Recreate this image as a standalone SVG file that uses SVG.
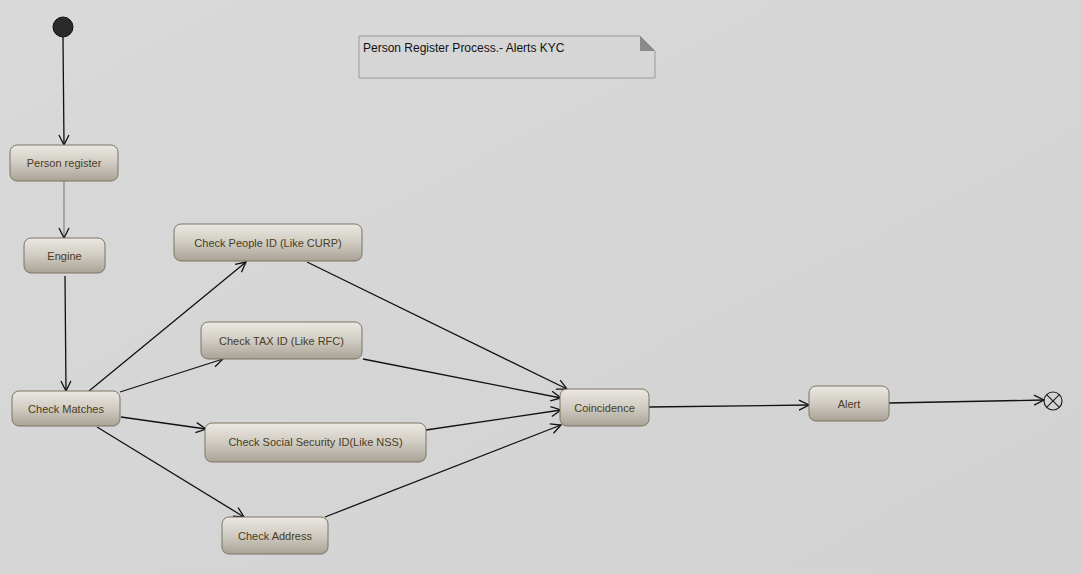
<svg xmlns="http://www.w3.org/2000/svg" width="1082" height="574" viewBox="0 0 1082 574">
<defs>
<linearGradient id="bg" x1="0" y1="0" x2="1" y2="1">
<stop offset="0" stop-color="#d9d9d9"/>
<stop offset="1" stop-color="#d2d2d2"/>
</linearGradient>
<linearGradient id="nodeFill" x1="0" y1="0" x2="0" y2="1">
<stop offset="0" stop-color="#ebe8e2"/>
<stop offset="0.5" stop-color="#d0ccc3"/>
<stop offset="1" stop-color="#a9a296"/>
</linearGradient>
<marker id="arr" viewBox="0 0 12 12" refX="11" refY="6" markerWidth="12" markerHeight="12" markerUnits="userSpaceOnUse" orient="auto">
<path d="M1,1 L11,6 L1,11" fill="none" stroke="#111" stroke-width="1.3"/>
</marker>
<style>
.node rect{fill:url(#nodeFill);stroke:#7d7565;stroke-width:1}
.node text{font-family:"Liberation Sans",Arial,sans-serif;font-size:11px;fill:#4a3c22;text-anchor:middle;dominant-baseline:central}
.edge{fill:none;stroke:#111;stroke-width:1.3;marker-end:url(#arr)}
</style>
</defs>
<rect width="1082" height="574" fill="url(#bg)"/>
<g id="note">
<path d="M359,36 H640 L655,51 V78 H359 Z" fill="#d6d6d6" stroke="#9a9a9a" stroke-width="1"/>
<path d="M640,36 L655,51 H640 Z" fill="#8a8a8a"/>
<text x="363" y="52" font-family="Liberation Sans,Arial,sans-serif" font-size="12" fill="#111">Person Register Process.- Alerts KYC</text>
</g>
<g id="connectors">
<line class="edge" x1="63" y1="37" x2="64" y2="145"/>
<line class="edge" x1="64" y1="181" x2="64" y2="238" style="stroke:#888"/>
<line class="edge" x1="65" y1="276" x2="66" y2="391"/>
<line class="edge" x1="89" y1="391" x2="246" y2="262"/>
<line class="edge" x1="120" y1="392" x2="223" y2="359"/>
<line class="edge" x1="121" y1="417" x2="206" y2="429"/>
<line class="edge" x1="97" y1="427" x2="244" y2="517"/>
<line class="edge" x1="307" y1="262" x2="567" y2="389"/>
<line class="edge" x1="363" y1="359" x2="561" y2="398"/>
<line class="edge" x1="426" y1="430" x2="561" y2="410"/>
<line class="edge" x1="325" y1="517" x2="561" y2="425"/>
<line class="edge" x1="649" y1="407" x2="809" y2="405"/>
<line class="edge" x1="889" y1="403" x2="1044" y2="400"/>
</g>
<g id="start"><circle cx="63" cy="27" r="10" fill="#2a2a2a" stroke="#111" stroke-width="1"/></g>
<g id="person-register" class="node"><rect x="10" y="145" width="108" height="36" rx="7"/><text x="64" y="163">Person register</text></g>
<g id="engine" class="node"><rect x="24" y="238" width="81" height="35" rx="7"/><text x="64.5" y="256">Engine</text></g>
<g id="check-matches" class="node"><rect x="12" y="391" width="108" height="35" rx="7"/><text x="66" y="409">Check Matches</text></g>
<g id="check-people-id" class="node"><rect x="174" y="224" width="188" height="37" rx="7"/><text x="268" y="242.5">Check People ID (Like CURP)</text></g>
<g id="check-tax-id" class="node"><rect x="201" y="322" width="161" height="37" rx="7"/><text x="281.5" y="340.5">Check TAX ID (Like RFC)</text></g>
<g id="check-social-security" class="node"><rect x="205" y="423" width="221" height="39" rx="7"/><text x="315.5" y="442">Check Social Security ID(Like NSS)</text></g>
<g id="check-address" class="node"><rect x="222" y="517" width="106" height="37" rx="7"/><text x="275" y="535.5">Check Address</text></g>
<g id="coincidence" class="node"><rect x="560" y="389" width="89" height="37" rx="7"/><text x="604.5" y="407.5">Coincidence</text></g>
<g id="alert" class="node"><rect x="809" y="386" width="80" height="35" rx="7"/><text x="849" y="404">Alert</text></g>
<g id="final"><circle cx="1053" cy="401" r="9" fill="none" stroke="#222" stroke-width="1.2"/><path d="M1046.6,394.6 L1059.4,407.4 M1059.4,394.6 L1046.6,407.4" stroke="#222" stroke-width="1.2"/></g>
</svg>
